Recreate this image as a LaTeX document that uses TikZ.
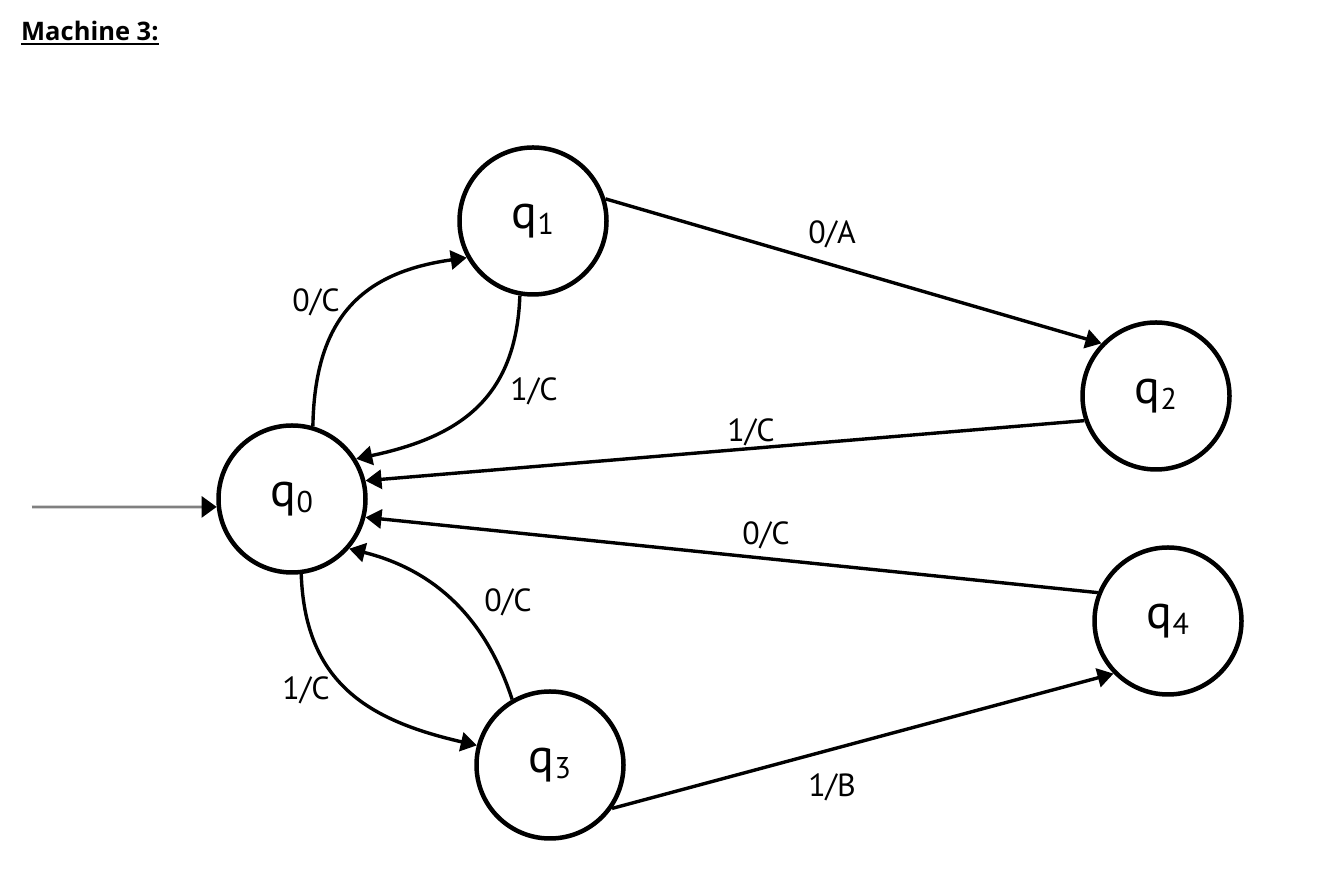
\documentclass[tikz,border=0pt]{standalone}
\usepackage{fontspec}
\setmainfont{Open Sans}
\newfontfamily\lblfont{PT Sans}
\usetikzlibrary{arrows.meta}
\definecolor{initgray}{RGB}{128,128,128}
\newcommand\stname[1]{{\fontsize{48}{48}\selectfont q}\raisebox{-6pt}{\fontsize{30}{30}\selectfont #1}}
\begin{document}
\begin{tikzpicture}[x=1pt,y=1pt,
  state/.style={circle, draw, line width=4.5pt, minimum size=147pt, inner sep=0pt, font=\lblfont},
  trans/.style={line width=3.4pt, -{Triangle[length=16pt,width=19pt]}},
  lbl/.style={font=\lblfont\fontsize{32}{32}\selectfont, inner sep=0pt},
  initarrow/.style={line width=2.8pt, draw=initgray, -{Triangle[length=15pt,width=21pt,black]}}]
\useasboundingbox (0,0) rectangle (1336,874);
\fill[white] (0,0) rectangle (1336,874);

\node[anchor=base west, inner sep=0pt, font=\bfseries\fontsize{25.5}{25.5}\selectfont] (title) at (21,833) {Machine 3:};
\draw[line width=2.5pt] ([yshift=-3pt]title.base west) -- ([yshift=-3pt]title.base east);

\node[state] (q0) at (292,375) {\stname{0}};
\node[state] (q1) at (533,653) {\stname{1}};
\node[state] (q2) at (1156,478) {\stname{2}};
\node[state] (q3) at (550,109) {\stname{3}};
\node[state] (q4) at (1168,253) {\stname{4}};

\coordinate (init) at (32,367);
\draw[initarrow] (init) -- (q0.186);

\draw[trans] (q0.74) to[out=89,in=188,looseness=1.2] (q1.209);
\draw[trans] (q1.260) to[out=268,in=12,looseness=1.15] (q0.32);
\draw[trans] (q1.17) -- (q2.136);
\draw[trans] (q2.199) -- (q0.14);
\draw[trans] (q4.158) -- (q0.-14);
\draw[trans] (q3.-35) -- (q4.224);
\draw[trans] (q0.277) to[out=272,in=167,looseness=1.15] (q3.165);
\draw[trans] (q3.120) to[out=108,in=346,looseness=1] (q0.319);

\node[lbl] (l01) at (316,572) {0/C};
\node[lbl] (l10) at (534,483) {1/C};
\node[lbl] (l12) at (832,640) {0/A};
\node[lbl] (l20) at (751,442) {1/C};
\node[lbl] (l40) at (766,339) {0/C};
\node[lbl] (l03) at (306,184) {1/C};
\node[lbl] (l30) at (508,272) {0/C};
\node[lbl] (l34) at (832,87) {1/B};
\end{tikzpicture}
\end{document}
